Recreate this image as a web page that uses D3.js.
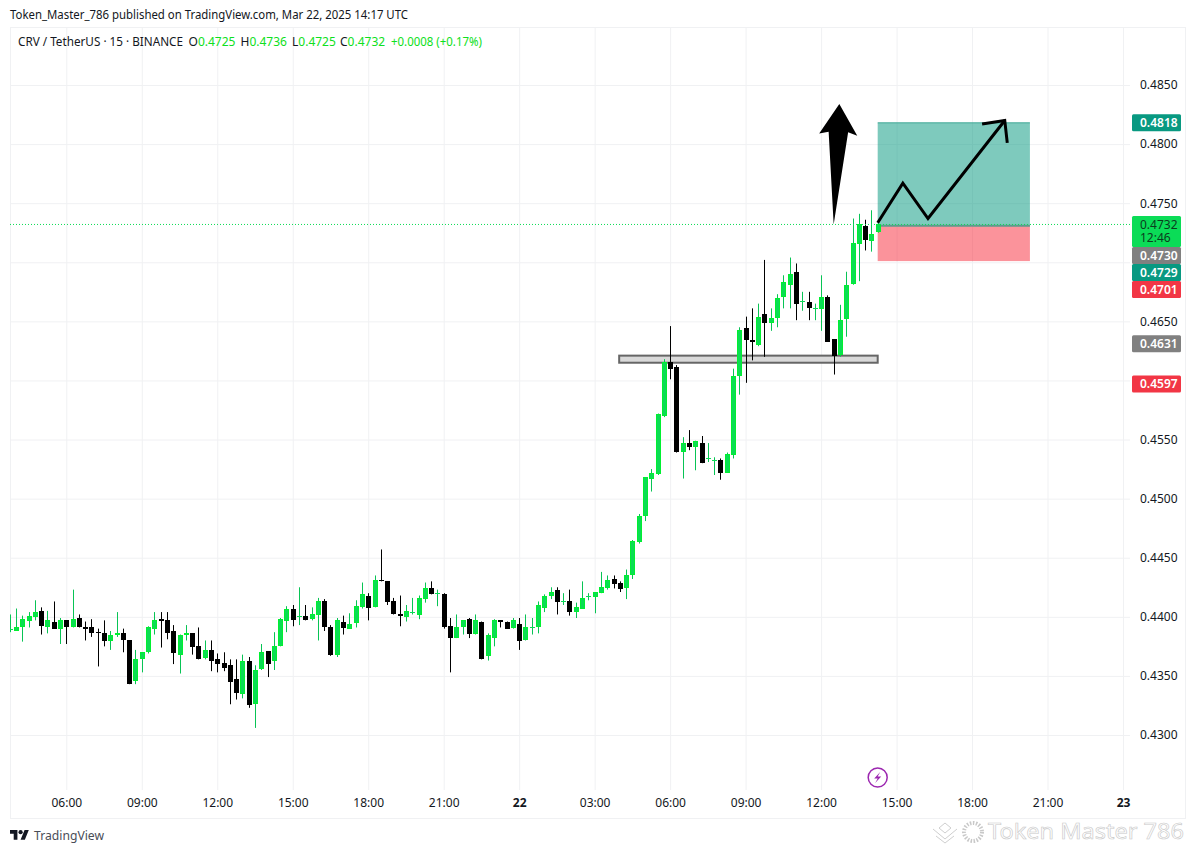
<!DOCTYPE html>
<html lang="en">

<head>
    <meta charset="UTF-8">
    <title>CRV / TetherUS 15m</title>
    <script src="https://d3js.org/d3.v7.min.js"></script>
    <style>
        html, body { margin: 0; background: #fff; }
        svg { display: block; }
        text { font-family: "Noto Sans", sans-serif; font-size: 12px; fill: #131722; }
        .axis path { display: none; }
        .grid path { display: none; }
        .grid line { stroke: #f0f1f3; }
        .grid text { display: none; }
    </style>
</head>

<body>
    <svg id="chart" width="1195" height="853"></svg>

    <script>
        // 15 minute bars, prices in 1/10000 of a dollar
        const opens = [
            4389,4388,4391,4397,4400,4405,4391,4396,4389,4397,
            4391,4399,4391,4391,4387,4386,4380,4384,4386,4380,
            4345,4364,4370,4389,4398,4397,4388,4368,4384,4386,
            4375,4365,4372,4364,4361,4359,4347,4335,4363,4326,
            4356,4371,4362,4375,4397,4407,4400,4401,4398,4401,
            4413,4391,4367,4396,4390,4395,4408,4418,4408,4431,
            4430,4413,4402,4400,4403,4402,4415,4424,4420,4419,
            4392,4382,4391,4398,4385,4396,4367,4382,4397,4396,
            4390,4394,4380,4390,4391,4408,4418,4423,4413,4413,
            4404,4407,4417,4417,4420,4424,4432,4429,4424,4435,
            4463,4485,4517,4521,4570,4616,4611,4539,4547,4544,
            4547,4533,4532,4533,4522,4537,4604,4644,4634,4630,
            4656,4649,4653,4670,4681,4692,4667,4666,4660,4661,
            4671,4635,4621,4652,4681,4715,4731,4718,4725
        ];
        const highs = [
            4402,4407,4401,4404,4414,4408,4405,4413,4399,4397,
            4423,4402,4396,4398,4390,4397,4388,4404,4390,4380,
            4372,4370,4392,4404,4404,4404,4393,4385,4393,4386,
            4391,4380,4380,4369,4370,4364,4364,4368,4366,4359,
            4377,4371,4387,4399,4409,4410,4425,4410,4408,4416,
            4415,4393,4399,4401,4403,4414,4429,4420,4435,4457,
            4430,4416,4418,4410,4416,4418,4429,4430,4423,4420,
            4399,4402,4397,4399,4402,4396,4386,4398,4397,4396,
            4399,4399,4402,4399,4413,4419,4425,4425,4420,4423,
            4412,4430,4420,4421,4438,4435,4435,4430,4440,4465,
            4487,4518,4525,4572,4618,4646,4613,4552,4558,4549,
            4553,4547,4535,4534,4539,4610,4645,4654,4661,4665,
            4702,4661,4673,4689,4704,4699,4675,4675,4665,4689,
            4672,4635,4664,4692,4737,4741,4736,4744,4736
        ];
        const lows = [
            4387,4388,4379,4391,4397,4385,4386,4390,4377,4377,
            4391,4391,4380,4383,4358,4375,4372,4383,4370,4343,
            4343,4353,4369,4385,4374,4381,4360,4352,4380,4368,
            4364,4364,4354,4353,4354,4326,4330,4331,4323,4306,
            4355,4349,4355,4375,4387,4392,4393,4397,4397,4380,
            4388,4367,4366,4385,4390,4391,4407,4397,4408,4430,
            4410,4402,4392,4396,4402,4398,4412,4419,4409,4390,
            4353,4382,4385,4382,4385,4364,4363,4375,4391,4390,
            4390,4372,4380,4385,4386,4404,4415,4402,4410,4401,
            4399,4407,4414,4403,4420,4423,4424,4421,4415,4432,
            4462,4481,4506,4520,4569,4601,4539,4517,4541,4524,
            4530,4531,4520,4516,4522,4534,4588,4598,4617,4629,
            4620,4642,4645,4661,4661,4651,4659,4651,4651,4642,
            4633,4605,4620,4637,4681,4684,4710,4709,4725
        ];
        const closes = [
            4390,4391,4398,4401,4404,4392,4397,4390,4397,4391,
            4398,4391,4389,4386,4386,4379,4385,4386,4380,4343,
            4364,4370,4391,4397,4396,4386,4369,4385,4386,4374,
            4364,4372,4363,4360,4357,4345,4335,4363,4326,4355,
            4370,4360,4375,4398,4407,4398,4401,4398,4402,4413,
            4391,4367,4397,4391,4394,4409,4419,4408,4431,4430,
            4412,4402,4400,4405,4404,4416,4424,4419,4420,4391,
            4382,4391,4397,4385,4397,4365,4385,4397,4395,4390,
            4397,4380,4391,4391,4410,4418,4421,4413,4413,4404,
            4408,4416,4418,4421,4425,4431,4428,4424,4435,4464,
            4485,4518,4522,4572,4616,4610,4539,4547,4544,4549,
            4530,4534,4533,4522,4538,4604,4643,4634,4632,4654,
            4648,4653,4670,4683,4690,4665,4667,4661,4661,4671,
            4633,4621,4651,4681,4716,4732,4719,4724,4732
        ];

        const priceTicks = [0.43, 0.435, 0.44, 0.445, 0.45, 0.455, 0.46, 0.465, 0.47, 0.475, 0.48, 0.485];
        // 0.46 and 0.47 have a grid line but their label sits behind a price tag
        const priceLabels = [0.43, 0.435, 0.44, 0.445, 0.45, 0.455, 0.465, 0.475, 0.48, 0.485];

        // price tags on the right, top to bottom
        const tagValues = [0.4818, 0.4732, 0.4730, 0.4729, 0.4701, 0.4631, 0.4597];
        const tagColors = ["#089981", "#0bdc57", "#808080", "#089981", "#f23645", "#808080", "#f23645"];
        const countdown = "12:46";

        // drawings, [bar number, price]
        const longTarget = 0.4818, longEntry = 0.4731, longStop = 0.4701, longBars = [138, 162.2];
        const zoneBars = [96.9, 138], zonePrices = [0.4621, 0.4615];
        const bigArrow = [[131.9, 0.4834], [134.75, 0.4807], [133.3, 0.4810], [131, 0.4732], [130.2, 0.48105], [128.7, 0.4809]];
        const zigzag = [[138, 0.47335], [142, 0.4767], [146, 0.4737], [158.2, 0.4820]];
        const zigzagHead = [[154.6, 0.4817], [158.2, 0.4820], [158.6, 0.4801]];

        const green = "#0bdc55", greenEdge = "#00f030", greenWick = "#08c455", legendGreen = "#0de020";

        const svg = d3.select("#chart");
        const pane = { left: 10, right: 1130, top: 27, bottom: 790 };

        const firstBar = Date.UTC(2025, 2, 21, 3, 45);
        const barTime = i => new Date(firstBar + i * 15 * 60000);

        const bars = opens.map((o, i) => ({
            i, time: barTime(i), open: o / 10000, high: highs[i] / 10000, low: lows[i] / 10000, close: closes[i] / 10000
        }));

        const x = d3.scaleUtc()
            .domain([new Date(Date.UTC(2025, 2, 21, 6)), new Date(Date.UTC(2025, 2, 23, 0))])
            .range([66.3, 1123]);
        const y = d3.scaleLinear().domain([0.43, 0.485]).range([735, 85]);

        const timeTicks = d3.utcHour.every(3).range(new Date(Date.UTC(2025, 2, 21, 6)), new Date(Date.UTC(2025, 2, 23, 0, 1)));
        const timeLabel = d => d.getUTCHours() === 0 ? d3.utcFormat("%-d")(d) : d3.utcFormat("%H:%M")(d);

        // outer frame
        svg.append("rect")
            .attr("x", 10.5).attr("y", 27.5).attr("width", 1175).attr("height", 791)
            .attr("fill", "none").attr("stroke", "#f0f1f3");

        // grid
        svg.append("g").attr("class", "grid")
            .attr("transform", `translate(${pane.right},0)`)
            .call(d3.axisLeft(y).tickValues(priceTicks).tickSize(pane.right - pane.left));
        svg.append("g").attr("class", "grid")
            .attr("transform", `translate(0,${pane.bottom})`)
            .call(d3.axisBottom(x).tickValues(timeTicks).tickSize(pane.top - pane.bottom));

        // axes
        svg.append("g").attr("class", "axis")
            .attr("transform", `translate(${pane.right},0)`)
            .call(d3.axisRight(y).tickValues(priceLabels).tickSize(0).tickPadding(10).tickFormat(d3.format(".4f")));
        const timeAxis = svg.append("g").attr("class", "axis")
            .attr("transform", `translate(0,${pane.bottom})`)
            .call(d3.axisBottom(x).tickValues(timeTicks).tickSize(0).tickPadding(8).tickFormat(timeLabel));
        timeAxis.selectAll("text")
            .style("font-weight", d => d.getUTCHours() === 0 ? "700" : "400");

        svg.append("clipPath").attr("id", "pane-clip").append("rect")
            .attr("x", pane.left).attr("y", pane.top)
            .attr("width", pane.right - pane.left).attr("height", pane.bottom - pane.top);
        const plot = svg.append("g").attr("clip-path", "url(#pane-clip)");

        // long position box
        const boxX = x(barTime(longBars[0])), boxW = x(barTime(longBars[1])) - boxX;
        plot.append("rect")
            .attr("x", boxX).attr("y", y(longTarget)).attr("width", boxW).attr("height", y(longEntry) - y(longTarget))
            .attr("fill", "#089981").attr("opacity", 0.52);
        plot.append("rect")
            .attr("x", boxX).attr("y", y(longEntry)).attr("width", boxW).attr("height", y(longStop) - y(longEntry))
            .attr("fill", "#f8303f").attr("opacity", 0.52);
        plot.append("line")
            .attr("x1", boxX).attr("x2", boxX + boxW).attr("y1", y(longTarget)).attr("y2", y(longTarget))
            .attr("stroke", "#3fa896");
        plot.append("line")
            .attr("x1", boxX).attr("x2", boxX + boxW).attr("y1", y(longEntry)).attr("y2", y(longEntry))
            .attr("stroke", "#5f9a8d").attr("stroke-width", 2);

        // support zone
        plot.append("rect")
            .attr("x", x(barTime(zoneBars[0]))).attr("y", y(zonePrices[0]))
            .attr("width", x(barTime(zoneBars[1])) - x(barTime(zoneBars[0])))
            .attr("height", y(zonePrices[1]) - y(zonePrices[0]))
            .attr("fill", "#d9d9d9").attr("stroke", "#666").attr("stroke-width", 2);

        // candles
        const candle = plot.selectAll(".candle").data(bars).enter().append("g").attr("class", "candle");
        candle.append("line")
            .attr("x1", d => Math.round(x(d.time)) + 0.5).attr("x2", d => Math.round(x(d.time)) + 0.5)
            .attr("y1", d => y(d.high)).attr("y2", d => y(d.low))
            .attr("stroke", d => d.close >= d.open ? greenWick : "#000");
        candle.append("rect")
            .attr("x", d => Math.round(x(d.time)) - 2)
            .attr("y", d => Math.round(y(Math.max(d.open, d.close))))
            .attr("width", 5)
            .attr("height", d => Math.max(1, Math.round(Math.abs(y(d.open) - y(d.close)))))
            .attr("fill", d => d.close >= d.open ? green : "#000");
        candle.filter(d => d.close >= d.open).append("rect")
            .attr("x", d => Math.round(x(d.time)) - 1.5)
            .attr("y", d => Math.round(y(Math.max(d.open, d.close))) + 0.5)
            .attr("width", 4)
            .attr("height", d => Math.max(0, Math.round(Math.abs(y(d.open) - y(d.close))) - 1))
            .attr("fill", "none").attr("stroke", greenEdge);

        // last price line
        plot.append("line")
            .attr("x1", pane.left).attr("x2", pane.right)
            .attr("y1", y(closes[closes.length - 1] / 10000)).attr("y2", y(closes[closes.length - 1] / 10000))
            .attr("stroke", green).attr("stroke-dasharray", "1 2");

        // hand drawn arrows
        const toPoint = d => [x(barTime(d[0])), y(d[1])];
        svg.append("path")
            .attr("d", d3.line()(bigArrow.map(toPoint)) + "Z")
            .attr("fill", "#000");
        [zigzag, zigzagHead].forEach(pts => {
            svg.append("path")
                .attr("d", d3.line()(pts.map(toPoint)))
                .attr("fill", "none").attr("stroke", "#000").attr("stroke-width", 3);
        });

        // price tags, pushed down when they would overlap
        let tagBottom = -Infinity;
        tagValues.forEach((v, i) => {
            const h = i === 1 ? 31 : 17;
            const top = Math.max(y(v) - 8.5, tagBottom);
            tagBottom = top + h;
            svg.append("rect")
                .attr("x", 1132).attr("y", top).attr("width", 49).attr("height", h).attr("rx", 1.5)
                .attr("fill", tagColors[i]);
            const label = svg.append("text")
                .attr("x", 1140).attr("y", top + 12.8)
                .style("fill", i === 1 ? "#0b3d1e" : "#fff")
                .style("font-weight", i === 1 ? "400" : "600");
            label.append("tspan").text(d3.format(".4f")(v));
            // the live price tag holds the countdown on a second line
            if (i === 1) {
                label.append("tspan").attr("x", 1140).attr("dy", 13.7).text(countdown);
            }
        });

        // header
        const fitText = (sel, w) => sel.attr("textLength", w).attr("lengthAdjust", "spacingAndGlyphs");
        svg.append("text").attr("x", 10).attr("y", 19)
            .text("Token_Master_786 published on TradingView.com, Mar 22, 2025 14:17 UTC")
            .call(fitText, 398);
        svg.append("text").attr("x", 18).attr("y", 46)
            .text("CRV / TetherUS · 15 · BINANCE")
            .call(fitText, 165);
        const legendItems = [["O", 188.5], ["H", 240.5], ["L", 292], ["C", 340]];
        const legendValues = [opens[138], highs[138], lows[138], closes[138]];
        legendItems.forEach((item, i) => {
            const t = svg.append("text").attr("x", item[1]).attr("y", 46);
            t.append("tspan").text(item[0]);
            t.append("tspan").text(d3.format(".4f")(legendValues[i] / 10000)).style("fill", legendGreen);
        });
        svg.append("text").attr("x", 391).attr("y", 46)
            .text("+0.0008 (+0.17%)")
            .style("fill", legendGreen)
            .call(fitText, 91);

        // lightning marker
        const bolt = svg.append("g").attr("transform", `translate(${x(barTime(138))},777.5)`);
        bolt.append("circle").attr("r", 9.5).attr("fill", "#fff").attr("stroke", "#9c27b0").attr("stroke-width", 1.5);
        bolt.append("path").attr("d", "M2.5,-5.5L-3.5,1H0L-2.5,5.5L3.5,-1H0Z").attr("fill", "#9c27b0");

        // footer logo
        const logo = svg.append("g").attr("transform", "translate(10,828) scale(0.53)");
        logo.append("path").attr("d", "M14 22H7V11H0V4h14v18zM28 22h-8l7.5-18h8L28 22z").attr("fill", "#131722");
        logo.append("circle").attr("cx", 20).attr("cy", 8).attr("r", 4).attr("fill", "#131722");
        svg.append("text").attr("x", 34).attr("y", 840).text("TradingView")
            .style("font-size", "13px").style("fill", "#4a4d57")
            .call(fitText, 70);

        // watermark
        svg.append("text").attr("x", 988).attr("y", 839).text("Token Master 786")
            .style("font-size", "22px")
            .style("fill", "#fff").style("stroke", "#c8c8c8").style("stroke-width", 0.6)
            .call(fitText, 196);
        svg.append("path")
            .attr("d", "M945,823l6,5l-6,5l-6,-5ZM933,829l6,5l6,5l6,-5l6,-5M936,836l9,7l9,-7")
            .attr("fill", "none").attr("stroke", "#cfcfcf");
        svg.append("circle").attr("cx", 973).attr("cy", 832).attr("r", 9)
            .attr("fill", "none").attr("stroke", "#c8c8c8").attr("stroke-width", 4).attr("stroke-dasharray", "1.5 1.5");
    </script>

</body>

</html>
